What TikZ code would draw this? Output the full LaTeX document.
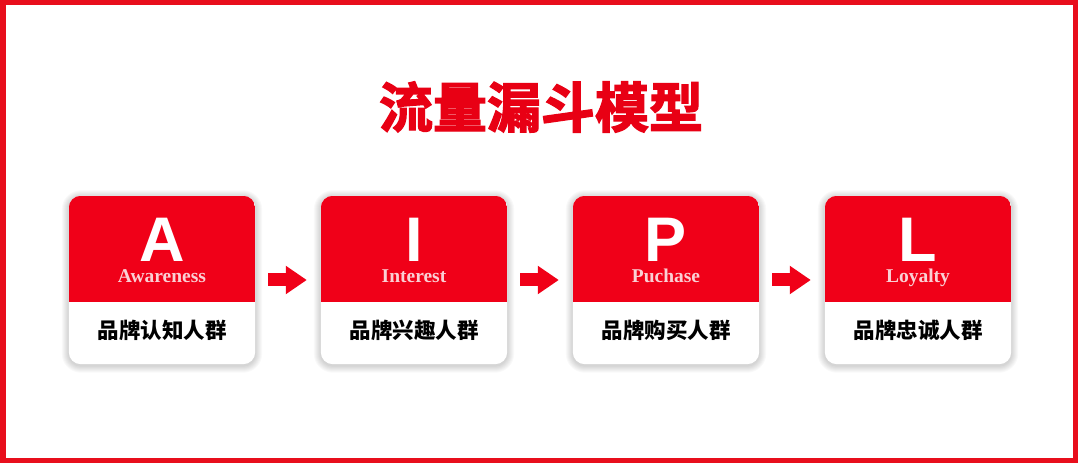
\documentclass[tikz,border=0pt]{standalone}
\usepackage{fontspec}
\setmainfont{Liberation Serif}
\newfontfamily\cjk{Noto Sans CJK SC}
\newfontfamily\cjktitle{Noto Sans CJK SC}[UprightFont={* Bold}, FakeBold=2.5]
\newfontfamily\lsans{Liberation Sans}
\usetikzlibrary{arrows.meta}
\definecolor{cardred}{RGB}{240,0,24}
\definecolor{framered}{RGB}{232,14,28}
\definecolor{titlered}{RGB}{232,0,20}
\definecolor{subpink}{RGB}{250,208,212}
\tikzset{
  card/.style={minimum width=186pt, minimum height=168pt, inner sep=0pt, draw=none},
  bigletter/.style={text=white, font=\lsans\bfseries\fontsize{63}{63}\selectfont, inner sep=0pt},
  subword/.style={text=subpink, font=\bfseries\fontsize{19.5}{19.5}\selectfont, inner sep=0pt, anchor=base},
  cntext/.style={text=black, font=\cjk\bfseries\fontsize{21.5}{22}\selectfont, inner sep=0pt},
  fatarrow/.style={draw=cardred, line width=13pt, -{Triangle[width=27pt,length=21pt]}, shorten <=13pt, shorten >=14pt},
}
\begin{document}
\begin{tikzpicture}[x=1pt,y=1pt]
\useasboundingbox (0,0) rectangle (1080,464);
\fill[white] (0,0) rectangle (1080,464);
\draw[framered, line width=5.5pt] (2.75,3.5) rectangle (1075.5,461.25);

\node[text=titlered, font=\cjktitle\fontsize{54}{54}\selectfont, inner sep=0pt] (title) at (541,357) {流量漏斗模型};

\foreach \i/\cx/\L/\W/\C in {1/162/A/Awareness/品牌认知人群, 2/414/I/Interest/品牌兴趣人群, 3/666/P/Puchase/品牌购买人群, 4/918/L/Loyalty/品牌忠诚人群}{
  \node[card] (c\i) at (\cx,184) {};
  \foreach \k in {1,...,7}{
    \fill[black, opacity=0.022, rounded corners={12pt+\k pt}] ([xshift=-\k pt, yshift=-\k pt-1.5pt]c\i.south west) rectangle ([xshift=\k pt, yshift=\k pt-1.5pt]c\i.north east);
  }
  \fill[white, rounded corners=12pt] (c\i.south west) rectangle (c\i.north east);
  \begin{scope}
    \clip[rounded corners=12pt] (c\i.south west) rectangle (c\i.north east);
    \fill[cardred] ([yshift=-106pt]c\i.north west) rectangle (c\i.north east);
  \end{scope}
  \node[bigletter] (l\i) at (\cx,224) {\L};
  \node[subword] (w\i) at (\cx,181) {\W};
  \node[cntext] (t\i) at (\cx,134) {\C};
}
\draw[fatarrow] (c1) -- (c2);
\draw[fatarrow] (c2) -- (c3);
\draw[fatarrow] (c3) -- (c4);
\end{tikzpicture}
\end{document}
